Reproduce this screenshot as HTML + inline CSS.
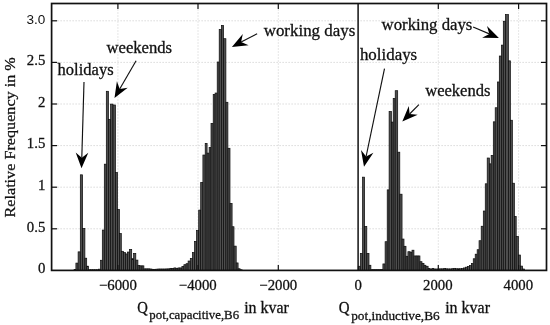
<!DOCTYPE html>
<html><head><meta charset="utf-8"><title>Histogram</title>
<style>html,body{margin:0;padding:0;background:#fff}svg{display:block}text{font-family:"Liberation Serif",serif;fill:#111;stroke:#111;stroke-width:0.28px}.sans{font-family:"Liberation Sans",sans-serif;stroke:none}</style></head><body>
<svg width="550" height="325" viewBox="0 0 550 325">
<rect width="550" height="325" fill="#fff"/>
<g stroke="#c2c2c2" stroke-width="0.9" stroke-dasharray="1 2" fill="none">
<line x1="117.9" y1="3.5" x2="117.9" y2="270.4" stroke="#c8c8c8"/>
<line x1="198.0" y1="3.5" x2="198.0" y2="270.4" stroke="#c8c8c8"/>
<line x1="278.3" y1="3.5" x2="278.3" y2="270.4" stroke="#c8c8c8"/>
<line x1="438.3" y1="3.5" x2="438.3" y2="270.4" stroke="#c8c8c8"/>
<line x1="518.6" y1="3.5" x2="518.6" y2="270.4" stroke="#c8c8c8"/>
<line x1="51.6" y1="228.8" x2="546.5" y2="228.8"/>
<line x1="51.6" y1="187.2" x2="546.5" y2="187.2"/>
<line x1="51.6" y1="145.6" x2="546.5" y2="145.6"/>
<line x1="51.6" y1="104.0" x2="546.5" y2="104.0"/>
<line x1="51.6" y1="62.4" x2="546.5" y2="62.4"/>
<line x1="51.6" y1="20.8" x2="546.5" y2="20.8"/>
</g>
<g fill="#4e4e4e" stroke="#0a0a0a" stroke-width="0.7">
<rect x="74.10" y="269.50" width="1.80" height="0.90"/>
<rect x="75.90" y="263.09" width="2.20" height="7.31"/>
<rect x="78.10" y="251.86" width="2.20" height="18.54"/>
<rect x="80.30" y="174.82" width="2.30" height="95.58"/>
<rect x="82.60" y="228.40" width="2.30" height="42.00"/>
<rect x="84.90" y="258.19" width="1.80" height="12.21"/>
<rect x="86.70" y="266.17" width="1.90" height="4.23"/>
<rect x="88.60" y="269.75" width="2.00" height="0.65"/>
<rect x="90.60" y="269.75" width="2.00" height="0.65"/>
<rect x="92.60" y="269.75" width="2.00" height="0.65"/>
<rect x="94.60" y="269.75" width="2.00" height="0.65"/>
<rect x="96.60" y="269.75" width="2.00" height="0.65"/>
<rect x="98.60" y="269.17" width="1.90" height="1.23"/>
<rect x="100.50" y="260.27" width="1.80" height="10.13"/>
<rect x="102.30" y="230.06" width="2.00" height="40.34"/>
<rect x="104.30" y="164.17" width="2.00" height="106.23"/>
<rect x="106.30" y="91.29" width="2.20" height="179.11"/>
<rect x="108.50" y="119.32" width="2.00" height="151.08"/>
<rect x="110.50" y="104.10" width="2.50" height="166.30"/>
<rect x="113.00" y="105.01" width="2.50" height="165.39"/>
<rect x="115.50" y="172.57" width="2.00" height="97.83"/>
<rect x="117.50" y="209.51" width="1.95" height="60.89"/>
<rect x="119.45" y="233.60" width="1.85" height="36.80"/>
<rect x="121.30" y="251.28" width="2.20" height="19.12"/>
<rect x="123.50" y="252.61" width="2.00" height="17.79"/>
<rect x="125.50" y="253.94" width="1.90" height="16.46"/>
<rect x="127.40" y="252.03" width="2.10" height="18.37"/>
<rect x="129.50" y="249.37" width="2.20" height="21.03"/>
<rect x="131.70" y="258.68" width="1.90" height="11.72"/>
<rect x="133.60" y="253.36" width="2.20" height="17.04"/>
<rect x="135.80" y="260.10" width="2.10" height="10.30"/>
<rect x="137.90" y="265.51" width="2.00" height="4.89"/>
<rect x="139.90" y="265.84" width="2.10" height="4.56"/>
<rect x="142.00" y="265.84" width="1.90" height="4.56"/>
<rect x="143.90" y="268.84" width="2.00" height="1.56"/>
<rect x="145.90" y="268.84" width="2.00" height="1.56"/>
<rect x="147.90" y="268.84" width="2.00" height="1.56"/>
<rect x="149.90" y="269.00" width="2.00" height="1.40"/>
<rect x="151.90" y="269.33" width="2.00" height="1.07"/>
<rect x="153.90" y="269.33" width="2.00" height="1.07"/>
<rect x="155.90" y="269.17" width="2.00" height="1.23"/>
<rect x="157.90" y="269.00" width="2.00" height="1.40"/>
<rect x="159.90" y="269.00" width="2.00" height="1.40"/>
<rect x="161.90" y="269.00" width="2.00" height="1.40"/>
<rect x="163.90" y="269.00" width="2.00" height="1.40"/>
<rect x="165.90" y="268.92" width="2.00" height="1.48"/>
<rect x="167.90" y="268.84" width="2.00" height="1.56"/>
<rect x="169.90" y="268.34" width="2.00" height="2.06"/>
<rect x="171.90" y="268.50" width="2.00" height="1.90"/>
<rect x="173.90" y="267.92" width="2.00" height="2.48"/>
<rect x="175.90" y="268.34" width="2.00" height="2.06"/>
<rect x="177.90" y="267.92" width="2.00" height="2.48"/>
<rect x="179.90" y="267.92" width="2.00" height="2.48"/>
<rect x="181.90" y="266.42" width="2.00" height="3.98"/>
<rect x="183.90" y="264.68" width="2.20" height="5.72"/>
<rect x="186.10" y="263.68" width="2.00" height="6.72"/>
<rect x="188.10" y="261.01" width="2.20" height="9.39"/>
<rect x="190.30" y="258.44" width="2.10" height="11.96"/>
<rect x="192.40" y="252.61" width="2.10" height="17.79"/>
<rect x="194.50" y="241.38" width="2.00" height="29.02"/>
<rect x="196.50" y="230.56" width="2.20" height="39.84"/>
<rect x="198.70" y="210.10" width="2.00" height="60.30"/>
<rect x="200.70" y="182.39" width="2.20" height="88.01"/>
<rect x="202.90" y="155.02" width="2.30" height="115.38"/>
<rect x="205.20" y="143.37" width="1.90" height="127.03"/>
<rect x="207.10" y="153.10" width="2.00" height="117.30"/>
<rect x="209.10" y="147.53" width="1.90" height="122.87"/>
<rect x="211.00" y="123.40" width="2.20" height="147.00"/>
<rect x="213.20" y="94.61" width="1.90" height="175.79"/>
<rect x="215.10" y="93.03" width="2.10" height="177.37"/>
<rect x="217.20" y="62.00" width="2.00" height="208.40"/>
<rect x="219.20" y="29.55" width="2.20" height="240.85"/>
<rect x="221.40" y="25.39" width="2.20" height="245.01"/>
<rect x="223.60" y="38.70" width="2.30" height="231.70"/>
<rect x="225.90" y="102.27" width="2.00" height="168.13"/>
<rect x="227.90" y="148.28" width="2.10" height="122.12"/>
<rect x="230.00" y="203.44" width="2.10" height="66.96"/>
<rect x="232.10" y="226.74" width="1.90" height="43.66"/>
<rect x="234.00" y="246.12" width="2.20" height="24.28"/>
<rect x="236.20" y="262.93" width="1.90" height="7.47"/>
<rect x="238.10" y="268.75" width="2.00" height="1.65"/>
<rect x="240.10" y="269.75" width="2.00" height="0.65"/>
<rect x="358.20" y="266.26" width="2.10" height="4.14"/>
<rect x="360.30" y="253.36" width="2.20" height="17.04"/>
<rect x="362.50" y="177.15" width="2.10" height="93.25"/>
<rect x="364.60" y="226.49" width="2.20" height="43.91"/>
<rect x="366.80" y="253.36" width="2.20" height="17.04"/>
<rect x="369.00" y="265.26" width="1.90" height="5.14"/>
<rect x="370.90" y="269.67" width="2.00" height="0.73"/>
<rect x="372.90" y="269.67" width="2.00" height="0.73"/>
<rect x="374.90" y="269.67" width="2.00" height="0.73"/>
<rect x="376.90" y="269.67" width="2.00" height="0.73"/>
<rect x="378.90" y="269.67" width="2.00" height="0.73"/>
<rect x="380.90" y="269.50" width="2.00" height="0.90"/>
<rect x="382.90" y="263.93" width="2.20" height="6.47"/>
<rect x="385.10" y="241.71" width="2.10" height="28.69"/>
<rect x="387.20" y="189.88" width="1.90" height="80.52"/>
<rect x="389.10" y="111.50" width="2.25" height="158.90"/>
<rect x="391.35" y="122.07" width="1.85" height="148.33"/>
<rect x="393.20" y="98.61" width="2.00" height="171.79"/>
<rect x="395.20" y="90.70" width="2.50" height="179.70"/>
<rect x="397.70" y="152.19" width="2.10" height="118.21"/>
<rect x="399.80" y="194.20" width="2.25" height="76.20"/>
<rect x="402.05" y="239.05" width="1.95" height="31.35"/>
<rect x="404.00" y="246.29" width="2.00" height="24.11"/>
<rect x="406.00" y="256.27" width="1.90" height="14.13"/>
<rect x="407.90" y="251.70" width="2.15" height="18.70"/>
<rect x="410.05" y="252.11" width="1.95" height="18.29"/>
<rect x="412.00" y="250.20" width="1.95" height="20.20"/>
<rect x="413.95" y="255.94" width="2.15" height="14.46"/>
<rect x="416.10" y="255.94" width="1.95" height="14.46"/>
<rect x="418.05" y="255.94" width="1.90" height="14.46"/>
<rect x="419.95" y="261.68" width="2.05" height="8.72"/>
<rect x="422.00" y="263.34" width="2.00" height="7.06"/>
<rect x="424.00" y="265.26" width="1.90" height="5.14"/>
<rect x="425.90" y="266.26" width="2.20" height="4.14"/>
<rect x="428.10" y="268.50" width="1.90" height="1.90"/>
<rect x="430.00" y="269.00" width="2.00" height="1.40"/>
<rect x="432.00" y="268.34" width="1.90" height="2.06"/>
<rect x="433.90" y="269.00" width="1.98" height="1.40"/>
<rect x="435.88" y="269.00" width="1.98" height="1.40"/>
<rect x="437.86" y="268.92" width="1.98" height="1.48"/>
<rect x="439.84" y="268.84" width="1.98" height="1.56"/>
<rect x="441.82" y="268.84" width="1.98" height="1.56"/>
<rect x="443.80" y="268.50" width="1.98" height="1.90"/>
<rect x="445.78" y="268.84" width="1.98" height="1.56"/>
<rect x="447.76" y="268.92" width="1.98" height="1.48"/>
<rect x="449.74" y="268.92" width="1.98" height="1.48"/>
<rect x="451.72" y="268.67" width="1.98" height="1.73"/>
<rect x="453.70" y="268.34" width="1.98" height="2.06"/>
<rect x="455.68" y="268.75" width="1.98" height="1.65"/>
<rect x="457.66" y="268.75" width="1.98" height="1.65"/>
<rect x="459.64" y="268.75" width="1.98" height="1.65"/>
<rect x="461.62" y="268.59" width="1.98" height="1.81"/>
<rect x="463.60" y="267.92" width="2.00" height="2.48"/>
<rect x="465.60" y="267.17" width="1.90" height="3.23"/>
<rect x="467.50" y="266.51" width="1.90" height="3.89"/>
<rect x="469.40" y="265.59" width="1.95" height="4.81"/>
<rect x="471.35" y="263.59" width="1.90" height="6.81"/>
<rect x="473.25" y="258.77" width="1.95" height="11.63"/>
<rect x="475.20" y="254.19" width="1.95" height="16.21"/>
<rect x="477.15" y="249.70" width="1.90" height="20.70"/>
<rect x="479.05" y="240.71" width="2.15" height="29.69"/>
<rect x="481.20" y="226.24" width="2.10" height="44.16"/>
<rect x="483.30" y="211.01" width="1.95" height="59.39"/>
<rect x="485.25" y="183.80" width="1.95" height="86.60"/>
<rect x="487.20" y="158.01" width="2.20" height="112.39"/>
<rect x="489.40" y="163.84" width="1.75" height="106.56"/>
<rect x="491.15" y="155.43" width="2.15" height="114.97"/>
<rect x="493.30" y="121.82" width="1.90" height="148.58"/>
<rect x="495.20" y="107.76" width="2.20" height="162.64"/>
<rect x="497.40" y="81.97" width="1.90" height="188.43"/>
<rect x="499.30" y="56.01" width="2.10" height="214.39"/>
<rect x="501.40" y="45.11" width="1.90" height="225.29"/>
<rect x="503.30" y="21.23" width="2.10" height="249.17"/>
<rect x="505.40" y="14.58" width="3.00" height="255.82"/>
<rect x="508.40" y="60.84" width="2.00" height="209.56"/>
<rect x="510.40" y="120.24" width="2.00" height="150.16"/>
<rect x="512.40" y="183.22" width="2.05" height="87.18"/>
<rect x="514.45" y="216.42" width="1.75" height="53.98"/>
<rect x="516.20" y="236.39" width="2.20" height="34.01"/>
<rect x="518.40" y="255.02" width="2.00" height="15.38"/>
<rect x="520.40" y="266.09" width="2.20" height="4.31"/>
<rect x="522.60" y="269.00" width="1.90" height="1.40"/>
</g>
<g stroke="#111" fill="none">
<rect x="51.6" y="3.5" width="494.9" height="266.9" stroke-width="1.7"/>
<line x1="358.1" y1="3.5" x2="358.1" y2="270.4" stroke-width="1.5"/>
<line x1="117.9" y1="270.4" x2="117.9" y2="264.9" stroke-width="1.2"/>
<line x1="117.9" y1="3.5" x2="117.9" y2="9.0" stroke-width="1.2"/>
<line x1="198.0" y1="270.4" x2="198.0" y2="264.9" stroke-width="1.2"/>
<line x1="198.0" y1="3.5" x2="198.0" y2="9.0" stroke-width="1.2"/>
<line x1="278.3" y1="270.4" x2="278.3" y2="264.9" stroke-width="1.2"/>
<line x1="278.3" y1="3.5" x2="278.3" y2="9.0" stroke-width="1.2"/>
<line x1="438.3" y1="270.4" x2="438.3" y2="264.9" stroke-width="1.2"/>
<line x1="438.3" y1="3.5" x2="438.3" y2="9.0" stroke-width="1.2"/>
<line x1="518.6" y1="270.4" x2="518.6" y2="264.9" stroke-width="1.2"/>
<line x1="518.6" y1="3.5" x2="518.6" y2="9.0" stroke-width="1.2"/>
<line x1="51.6" y1="228.8" x2="57.1" y2="228.8" stroke-width="1.2"/>
<line x1="546.5" y1="228.8" x2="541.0" y2="228.8" stroke-width="1.2"/>
<line x1="51.6" y1="187.2" x2="57.1" y2="187.2" stroke-width="1.2"/>
<line x1="546.5" y1="187.2" x2="541.0" y2="187.2" stroke-width="1.2"/>
<line x1="51.6" y1="145.6" x2="57.1" y2="145.6" stroke-width="1.2"/>
<line x1="546.5" y1="145.6" x2="541.0" y2="145.6" stroke-width="1.2"/>
<line x1="51.6" y1="104.0" x2="57.1" y2="104.0" stroke-width="1.2"/>
<line x1="546.5" y1="104.0" x2="541.0" y2="104.0" stroke-width="1.2"/>
<line x1="51.6" y1="62.4" x2="57.1" y2="62.4" stroke-width="1.2"/>
<line x1="546.5" y1="62.4" x2="541.0" y2="62.4" stroke-width="1.2"/>
<line x1="51.6" y1="20.8" x2="57.1" y2="20.8" stroke-width="1.2"/>
<line x1="546.5" y1="20.8" x2="541.0" y2="20.8" stroke-width="1.2"/>
</g>
<line x1="84.0" y1="82.0" x2="81.8" y2="157.8" stroke="#111" stroke-width="1.15"/>
<path d="M81.5 168.2 L75.7 152.4 L81.8 157.8 L88.3 152.8 Z" fill="#000"/>
<line x1="136.1" y1="60.8" x2="119.7" y2="89.0" stroke="#111" stroke-width="1.15"/>
<path d="M114.5 98.0 L116.9 81.3 L119.7 89.0 L127.7 87.7 Z" fill="#000"/>
<line x1="257.1" y1="33.7" x2="241.1" y2="42.1" stroke="#111" stroke-width="1.15"/>
<path d="M231.9 46.9 L242.8 34.1 L241.1 42.1 L248.6 45.2 Z" fill="#000"/>
<line x1="384.5" y1="68.6" x2="366.1" y2="156.5" stroke="#111" stroke-width="1.15"/>
<path d="M364.0 166.7 L361.0 150.1 L366.1 156.5 L373.4 152.7 Z" fill="#000"/>
<line x1="418.9" y1="104.6" x2="409.6" y2="114.0" stroke="#111" stroke-width="1.15"/>
<path d="M402.3 121.4 L408.8 105.9 L409.6 114.0 L417.7 114.7 Z" fill="#000"/>
<line x1="473.1" y1="27.0" x2="489.3" y2="33.9" stroke="#111" stroke-width="1.15"/>
<path d="M498.9 38.0 L482.1 37.7 L489.3 33.9 L487.0 26.1 Z" fill="#000"/>
<text x="45.3" y="23.7" font-size="13.5" text-anchor="end" class="sans">3.0</text>
<text x="45.3" y="65.0" font-size="14.8" text-anchor="end">2.5</text>
<text x="45.3" y="106.7" font-size="14.8" text-anchor="end">2</text>
<text x="45.3" y="148.2" font-size="14.8" text-anchor="end">1.5</text>
<text x="45.3" y="189.9" font-size="14.8" text-anchor="end">1</text>
<text x="45.3" y="231.5" font-size="14.8" text-anchor="end">0.5</text>
<text x="45.3" y="273.0" font-size="14.8" text-anchor="end">0</text>
<text x="117.9" y="290.3" font-size="14.8" text-anchor="middle">−6000</text>
<text x="197.8" y="290.3" font-size="14.8" text-anchor="middle">−4000</text>
<text x="278.3" y="290.3" font-size="14.8" text-anchor="middle">−2000</text>
<text x="358.3" y="290.3" font-size="14.8" text-anchor="middle">0</text>
<text x="437.8" y="290.3" font-size="14.8" text-anchor="middle">2000</text>
<text x="518.3" y="290.3" font-size="14.8" text-anchor="middle">4000</text>
<text x="137.3" y="313.0" font-size="15.8" textLength="10.6" lengthAdjust="spacingAndGlyphs">Q</text>
<text x="149.3" y="319.4" font-size="12.9" textLength="89.8" lengthAdjust="spacingAndGlyphs">pot,capacitive,B6</text>
<text x="244.2" y="312.8" font-size="15.8" textLength="44.6" lengthAdjust="spacingAndGlyphs">in kvar</text>
<text x="338.7" y="313.0" font-size="15.8" textLength="10.8" lengthAdjust="spacingAndGlyphs">Q</text>
<text x="351.2" y="319.6" font-size="12.9" textLength="88.5" lengthAdjust="spacingAndGlyphs">pot,inductive,B6</text>
<text x="445.2" y="312.8" font-size="15.8" textLength="44.8" lengthAdjust="spacingAndGlyphs">in kvar</text>
<text transform="translate(14.5 217.5) rotate(-90)" font-size="15.6" textLength="160.3" lengthAdjust="spacingAndGlyphs">Relative Frequency in %</text>
<text x="57.6" y="74.5" font-size="15.8" textLength="56.0" lengthAdjust="spacingAndGlyphs">holidays</text>
<text x="106.5" y="52.9" font-size="15.8" textLength="65.6" lengthAdjust="spacingAndGlyphs">weekends</text>
<text x="263.7" y="35.9" font-size="15.8" textLength="91.6" lengthAdjust="spacingAndGlyphs">working days</text>
<text x="359.9" y="59.9" font-size="15.8" textLength="57.3" lengthAdjust="spacingAndGlyphs">holidays</text>
<text x="425.2" y="96.0" font-size="15.8" textLength="65.3" lengthAdjust="spacingAndGlyphs">weekends</text>
<text x="381.6" y="29.8" font-size="15.8" textLength="90.8" lengthAdjust="spacingAndGlyphs">working days</text>
</svg></body></html>
